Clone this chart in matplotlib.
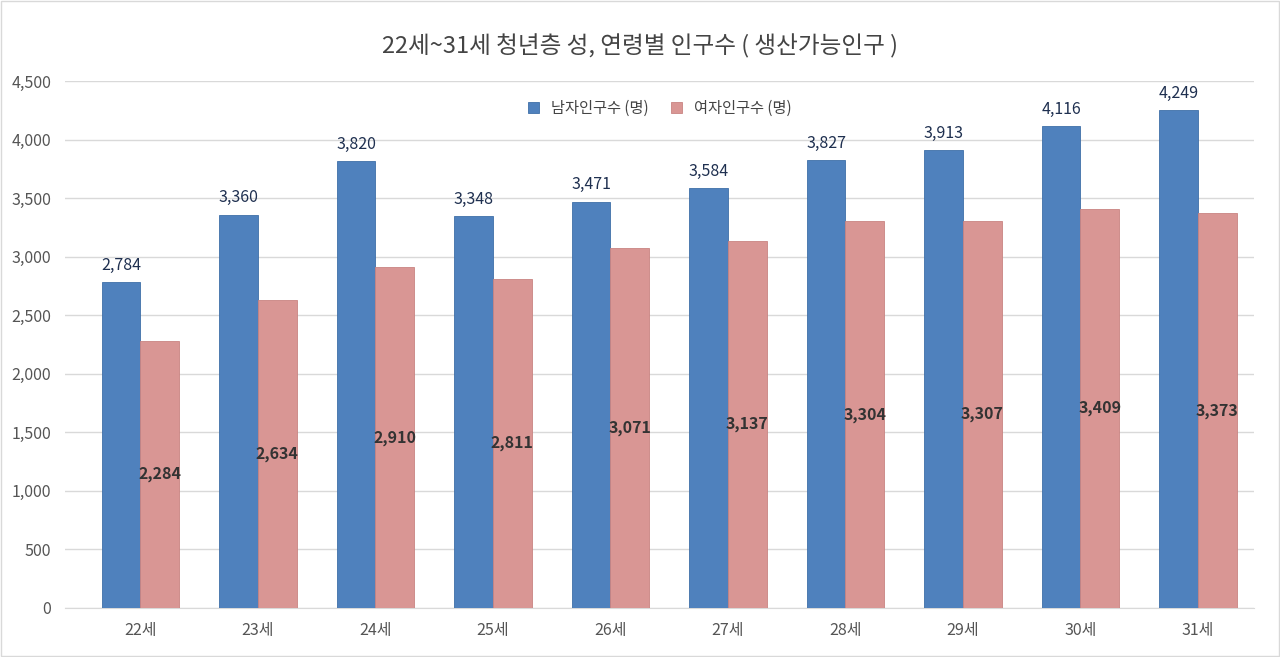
import matplotlib
matplotlib.use("Agg")
import matplotlib.pyplot as plt
import numpy as np

plt.rcParams['font.family'] = 'Noto Sans CJK KR'

categories = ["22세","23세","24세","25세","26세","27세","28세","29세","30세","31세"]
male = [2784,3360,3820,3348,3471,3584,3827,3913,4116,4249]
female = [2284,2634,2910,2811,3071,3137,3304,3307,3409,3373]
yticks = [0,500,1000,1500,2000,2500,3000,3500,4000,4500]

fig = plt.figure(figsize=(12.8,6.57), dpi=100)
ax = fig.add_axes([0.051,0.0746,0.929,0.802])
x = np.arange(len(categories))
w = 0.33
c_m = '#4f81bd'; c_f = '#d99694'
bm = ax.bar(x-w/2, male, w, color=c_m, edgecolor='#3f6fa8', linewidth=0.6, label='남자인구수 (명)', zorder=3)
bf = ax.bar(x+w/2, female, w, color=c_f, edgecolor='#c98482', linewidth=0.6, label='여자인구수 (명)', zorder=3)
for i in range(len(x)):
    ax.text(x[i]-w/2, male[i]+70, f"{male[i]:,}", ha='center', va='bottom', fontsize=11.5, color='#1f3050')
    ax.text(x[i]+w/2, female[i]/2, f"{female[i]:,}", ha='center', va='center', fontsize=11.5, color='#333333', fontweight='bold', zorder=4)
ax.set_xlim(-0.64, 9.48)
ax.set_ylim(0,4500)
ax.set_yticks(yticks)
ax.set_yticklabels([f"{v:,}" for v in yticks], fontsize=11.5, color='#555555')
ax.set_xticks(x)
ax.set_xticklabels(categories, fontsize=11.5, color='#555555')
ax.grid(axis='y', color='#d9d9d9', linewidth=1, zorder=0)
for s in ['top','right','left']:
    ax.spines[s].set_visible(False)
ax.spines['bottom'].set_color('#d9d9d9')
ax.tick_params(length=0, pad=10)
ax.legend(loc='upper center', bbox_to_anchor=(0.5,0.99), ncol=2, frameon=False, fontsize=11, handlelength=0.7, handleheight=0.7, columnspacing=1.5, labelcolor='#444444')
fig.text(0.5, 0.93, "22세~31세 청년층 성, 연령별 인구수 ( 생산가능인구 )", ha='center', va='center', fontsize=17, color='#444444')
fig.patches.append(plt.Rectangle((0.001,0.001),0.998,0.997, transform=fig.transFigure, fill=False, edgecolor='#d9d9d9', linewidth=1))
fig.savefig("out.png", dpi=100)
